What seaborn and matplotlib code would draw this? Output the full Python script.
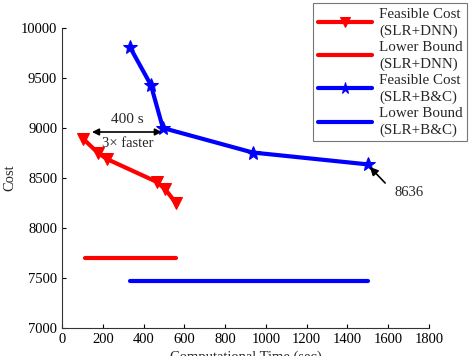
import numpy as np
import pandas as pd
import matplotlib
matplotlib.use('Agg')
import matplotlib.pyplot as plt
import seaborn as sns

sns.set_theme(style='white')
plt.rcParams['font.family'] = ['Liberation Serif', 'DejaVu Serif']
plt.rcParams['mathtext.fontset'] = 'stix'

# feasible cost, SLR+DNN
dnn_time = [105, 177, 220, 466, 505, 559]
dnn_cost = [8890, 8750, 8690, 8460, 8390, 8250]
# lower bound, SLR+DNN
dnn_lb_time = [115, 560]
dnn_lb_cost = [7700, 7700]
# feasible cost, SLR+B&C
bc_time = [333, 436, 495, 935, 1500]
bc_cost = [9810, 9430, 9000, 8755, 8636]
# lower bound, SLR+B&C
bc_lb_time = [335, 1500]
bc_lb_cost = [7465, 7465]

labels = ['Feasible Cost\n(SLR+DNN)', 'Lower Bound\n(SLR+DNN)',
          'Feasible Cost\n(SLR+B&C)', 'Lower Bound\n(SLR+B&C)']

fig = plt.figure(figsize=(4.74, 3.56), dpi=100)
ax = fig.add_axes([0.1308, 0.0787, 0.7742, 0.8426])

red = '#ff0000'
blue = '#0000ff'
sns.lineplot(x=dnn_time, y=dnn_cost, color=red, lw=3, marker='v', markersize=8,
             markeredgecolor=red, label=labels[0], ax=ax, sort=False)
sns.lineplot(x=dnn_lb_time, y=dnn_lb_cost, color=red, lw=3, label=labels[1], ax=ax)
sns.lineplot(x=bc_time, y=bc_cost, color=blue, lw=3, marker='*', markersize=10,
             markeredgecolor=blue, label=labels[2], ax=ax, sort=False)
sns.lineplot(x=bc_lb_time, y=bc_lb_cost, color=blue, lw=3, label=labels[3], ax=ax)

ax.set_xlim(0, 1800)
ax.set_ylim(7000, 10000)
ax.set_xticks(np.arange(0, 1801, 200))
ax.set_yticks(np.arange(7000, 10001, 500))
ax.tick_params(direction='in', length=3, width=0.8, labelsize=10.5, colors='black',
               bottom=True, left=True)
for s in ['top', 'right']:
    ax.spines[s].set_visible(False)
for s in ['left', 'bottom']:
    ax.spines[s].set_color('#333333')
    ax.spines[s].set_linewidth(0.8)

ax.set_xlabel('Computational Time (sec)', fontsize=10.5)
ax.xaxis.set_label_coords(0.5, -0.075)
ax.set_ylabel('Cost', fontsize=10.5)
ax.yaxis.set_label_coords(-0.125, 0.5)

# 400 s gap
ax.annotate('', xy=(147, 8960), xytext=(490, 8960),
            arrowprops=dict(arrowstyle='<|-|>', color='black', lw=1.2,
                            mutation_scale=10, shrinkA=0, shrinkB=0))
ax.text(319, 9085, '400 s', ha='center', va='center', fontsize=11)
ax.text(324, 8850, '3× faster', ha='center', va='center', fontsize=10.5)

# final cost label
ax.annotate('', xy=(1510, 8610), xytext=(1585, 8450),
            arrowprops=dict(arrowstyle='-|>', color='black', lw=1.2,
                            mutation_scale=12, shrinkA=0, shrinkB=0))
ax.text(1700, 8350, '8636', ha='center', va='center', fontsize=10.5)

leg = ax.legend(loc='upper left', bbox_to_anchor=(313 / 474, 1 - 3 / 356),
                bbox_transform=fig.transFigure, fontsize=10.8, frameon=True,
                fancybox=False, edgecolor='#555555', handlelength=3.6,
                handletextpad=0.5, labelspacing=0.2, borderpad=0.3,
                borderaxespad=0, markerscale=0.85)
leg.get_frame().set_linewidth(0.8)
for t in leg.get_texts():
    t.set_linespacing(1.35)

fig.savefig('out.png', dpi=100)
